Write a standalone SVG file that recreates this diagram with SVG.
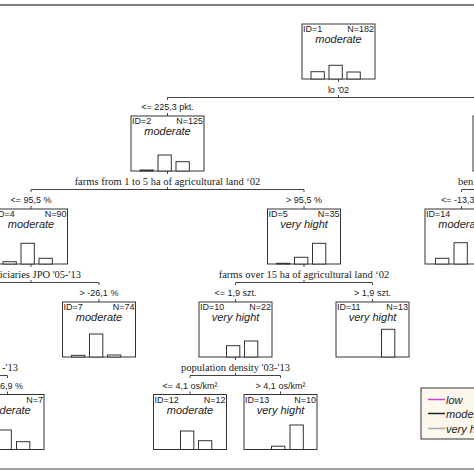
<svg xmlns="http://www.w3.org/2000/svg" width="474" height="474" viewBox="0 0 474 474">
<style>
.bg{fill:#fff}
.box{fill:#fff;stroke:#333;stroke-width:1}
.bar{fill:#fff;stroke:#333;stroke-width:1}
.t{font-family:"Liberation Sans",Arial,sans-serif;font-size:9px;fill:#222}
.e{text-anchor:end}
.m{text-anchor:middle}
.cls{font-family:"Liberation Sans",Arial,sans-serif;font-size:11px;font-style:italic;fill:#222;text-anchor:middle}
.sp{font-family:"Liberation Serif","Times New Roman",serif;font-size:10.5px;fill:#222;text-anchor:middle}
.conn{stroke:#444;stroke-width:1;fill:none}
.frame{stroke:#808080;fill:none}
</style>
<rect class="bg" x="0" y="0" width="474" height="474"/>
<line class="frame" x1="0" y1="5" x2="474" y2="5" stroke-width="2"/>
<line class="frame" x1="0" y1="469" x2="474" y2="469" stroke-width="1.5"/>

<g id="connectors">
<path class="conn" d="M167.5 97.5 H520 M31 189.5 H304 M461.5 189.5 H560 M-37 282.5 H99 M235.5 282.5 H372.5 M-81 375.5 H7.5 M190 375.5 H280.5"/>
<path class="conn" d="M338.5 79 v3 M338.5 95 v2.5 M167.5 171 v3 M167.5 187 v2.5 M31 264 v3 M31 280 v2.5 M304 264 v3 M304 280 v2.5 M235.5 357 v3 M235.5 373 v2.5
M167.5 97.5 v2.5 M167.5 113 v3 M31 189.5 v2.5 M31 206 v3 M304 189.5 v2.5 M304 206 v3 M461.5 189.5 v2.5 M461.5 206 v3
M99 282.5 v2.5 M99 299 v3 M235.5 282.5 v2.5 M235.5 299 v3 M372.5 282.5 v2.5 M372.5 299 v3
M7.5 375.5 v2.5 M7.5 391.5 v3 M190 375.5 v2.5 M190 391.5 v3 M280.5 375.5 v2.5 M280.5 391.5 v3"/>
</g>

<g id="node1">
<rect class="box" x="302" y="24" width="73" height="55"/>
<text class="t" x="303" y="32">ID=1</text>
<text class="t e" x="374" y="32">N=182</text>
<text class="cls" x="338.5" y="43">moderate</text>
<rect class="bar" x="311" y="71.7" width="13.3" height="7.3"/>
<rect class="bar" x="329" y="65.3" width="13.3" height="13.7"/>
<rect class="bar" x="347" y="72" width="13.3" height="7"/>
<text class="t m" x="338.5" y="92.5">lo '02</text>
</g>

<g id="node2">
<text class="t m" x="167.5" y="110">&lt;= 225,3 pkt.</text>
<rect class="box" x="131" y="116" width="73" height="55"/>
<text class="t" x="132" y="124">ID=2</text>
<text class="t e" x="203" y="124">N=125</text>
<text class="cls" x="167.5" y="135">moderate</text>
<rect class="bar" x="140" y="170" width="13.3" height="1"/>
<rect class="bar" x="158" y="155" width="13.3" height="16"/>
<rect class="bar" x="176" y="161.7" width="13.3" height="9.3"/>
<text class="sp" x="167.5" y="184.5">farms from 1 to 5 ha of agricultural land ‘02</text>
</g>

<g id="node3">
<rect class="box" x="473" y="116" width="73" height="55"/>
<text class="sp" x="458" y="184.5" text-anchor="start" style="text-anchor:start">ben</text>
</g>

<g id="node4">
<text class="t m" x="31" y="203">&lt;= 95,5 %</text>
<rect class="box" x="-5.5" y="209" width="73" height="55"/>
<text class="t" x="-4.5" y="217">ID=4</text>
<text class="t e" x="66.5" y="217">N=90</text>
<text class="cls" x="31" y="228">moderate</text>
<rect class="bar" x="3" y="261.7" width="13.3" height="2.3"/>
<rect class="bar" x="21" y="243.3" width="13.3" height="20.7"/>
<rect class="bar" x="39" y="258.3" width="13.3" height="5.7"/>
<text class="sp" x="81" y="277.5" style="text-anchor:end">ficiaries JPO '05-'13</text>
</g>

<g id="node5">
<text class="t m" x="304" y="203">&gt; 95,5 %</text>
<rect class="box" x="267.5" y="209" width="73" height="55"/>
<text class="t" x="268.5" y="217">ID=5</text>
<text class="t e" x="339.5" y="217">N=35</text>
<text class="cls" x="304" y="228">very hight</text>
<rect class="bar" x="276.5" y="263.3" width="13.3" height="0.7"/>
<rect class="bar" x="294.5" y="257.3" width="13.3" height="6.7"/>
<rect class="bar" x="312.5" y="243.3" width="13.3" height="20.7"/>
<text class="sp" x="304" y="277.5">farms over 15 ha of agricultural land ‘02</text>
</g>

<g id="node14">
<text class="t" x="441" y="203">&lt;= -13,3</text>
<rect class="box" x="425" y="209" width="73" height="55"/>
<text class="t" x="426" y="217">ID=14</text>
<text class="cls" x="461.5" y="228">moderate</text>
<rect class="bar" x="435.5" y="258.3" width="13.3" height="5.7"/>
<rect class="bar" x="454" y="242.7" width="13.3" height="21.3"/>
</g>

<g id="node6">
<text class="sp" x="18" y="370.5" style="text-anchor:end">-'13</text>
</g>

<g id="node7">
<text class="t m" x="99" y="296">&gt; -26,1 %</text>
<rect class="box" x="62.5" y="302" width="73" height="55"/>
<text class="t" x="63.5" y="310">ID=7</text>
<text class="t e" x="134.5" y="310">N=74</text>
<text class="cls" x="99" y="321">moderate</text>
<rect class="bar" x="71.5" y="355.3" width="13.3" height="1.7"/>
<rect class="bar" x="89.5" y="334" width="13.3" height="23"/>
<rect class="bar" x="107.5" y="355" width="13.3" height="2"/>
</g>

<g id="node10">
<text class="t m" x="235.5" y="296">&lt;= 1,9 szt.</text>
<rect class="box" x="199" y="302" width="73" height="55"/>
<text class="t" x="200" y="310">ID=10</text>
<text class="t e" x="271" y="310">N=22</text>
<text class="cls" x="235.5" y="321">very hight</text>
<rect class="bar" x="226.5" y="345.7" width="13.3" height="11.3"/>
<rect class="bar" x="244.5" y="341" width="13.3" height="16"/>
<text class="sp" x="235.5" y="370.5">population density '03-'13</text>
</g>

<g id="node11">
<text class="t m" x="372.5" y="296">&gt; 1,9 szt.</text>
<rect class="box" x="336" y="302" width="73" height="55"/>
<text class="t" x="337" y="310">ID=11</text>
<text class="t e" x="408" y="310">N=13</text>
<text class="cls" x="372.5" y="321">very hight</text>
<rect class="bar" x="381.5" y="329.3" width="13.3" height="27.7"/>
</g>

<g id="node9">
<text class="t e" x="23" y="389">6,9 %</text>
<rect class="box" x="-29" y="394.5" width="73" height="55"/>
<text class="t e" x="43" y="402.5">N=7</text>
<text class="cls" x="7.5" y="413.5">moderate</text>
<rect class="bar" x="-2" y="430" width="13.3" height="19.5"/>
<rect class="bar" x="16.5" y="441.7" width="13.3" height="7.8"/>
</g>

<g id="node12">
<text class="t m" x="190" y="389">&lt;= 4,1 os/km²</text>
<rect class="box" x="153.5" y="394.5" width="73" height="55"/>
<text class="t" x="154.5" y="402.5">ID=12</text>
<text class="t e" x="225.5" y="402.5">N=12</text>
<text class="cls" x="190" y="413.5">moderate</text>
<rect class="bar" x="180.5" y="431" width="13.3" height="18.5"/>
<rect class="bar" x="198.5" y="440.7" width="13.3" height="8.8"/>
</g>

<g id="node13">
<text class="t m" x="280.5" y="389">&gt; 4,1 os/km²</text>
<rect class="box" x="244" y="394.5" width="73" height="55"/>
<text class="t" x="245" y="402.5">ID=13</text>
<text class="t e" x="316" y="402.5">N=10</text>
<text class="cls" x="280.5" y="413.5">very hight</text>
<rect class="bar" x="271.5" y="446.2" width="13.3" height="3.3"/>
<rect class="bar" x="290" y="425" width="13.3" height="24.5"/>
</g>

<g id="legend">
<rect x="421" y="388" width="80" height="51" fill="#fcf8ee" stroke="#333" stroke-width="1"/>
<line x1="428" y1="399.5" x2="445" y2="399.5" stroke="#d040d0" stroke-width="1.5"/>
<line x1="428" y1="413.5" x2="445" y2="413.5" stroke="#222" stroke-width="1.5"/>
<line x1="428" y1="428.5" x2="445" y2="428.5" stroke="#a8a8a8" stroke-width="1.5"/>
<text class="cls" x="446" y="403.5" style="text-anchor:start">low</text>
<text class="cls" x="446" y="417.5" style="text-anchor:start">moderate</text>
<text class="cls" x="446" y="432.5" style="text-anchor:start">very hight</text>
</g>
</svg>
